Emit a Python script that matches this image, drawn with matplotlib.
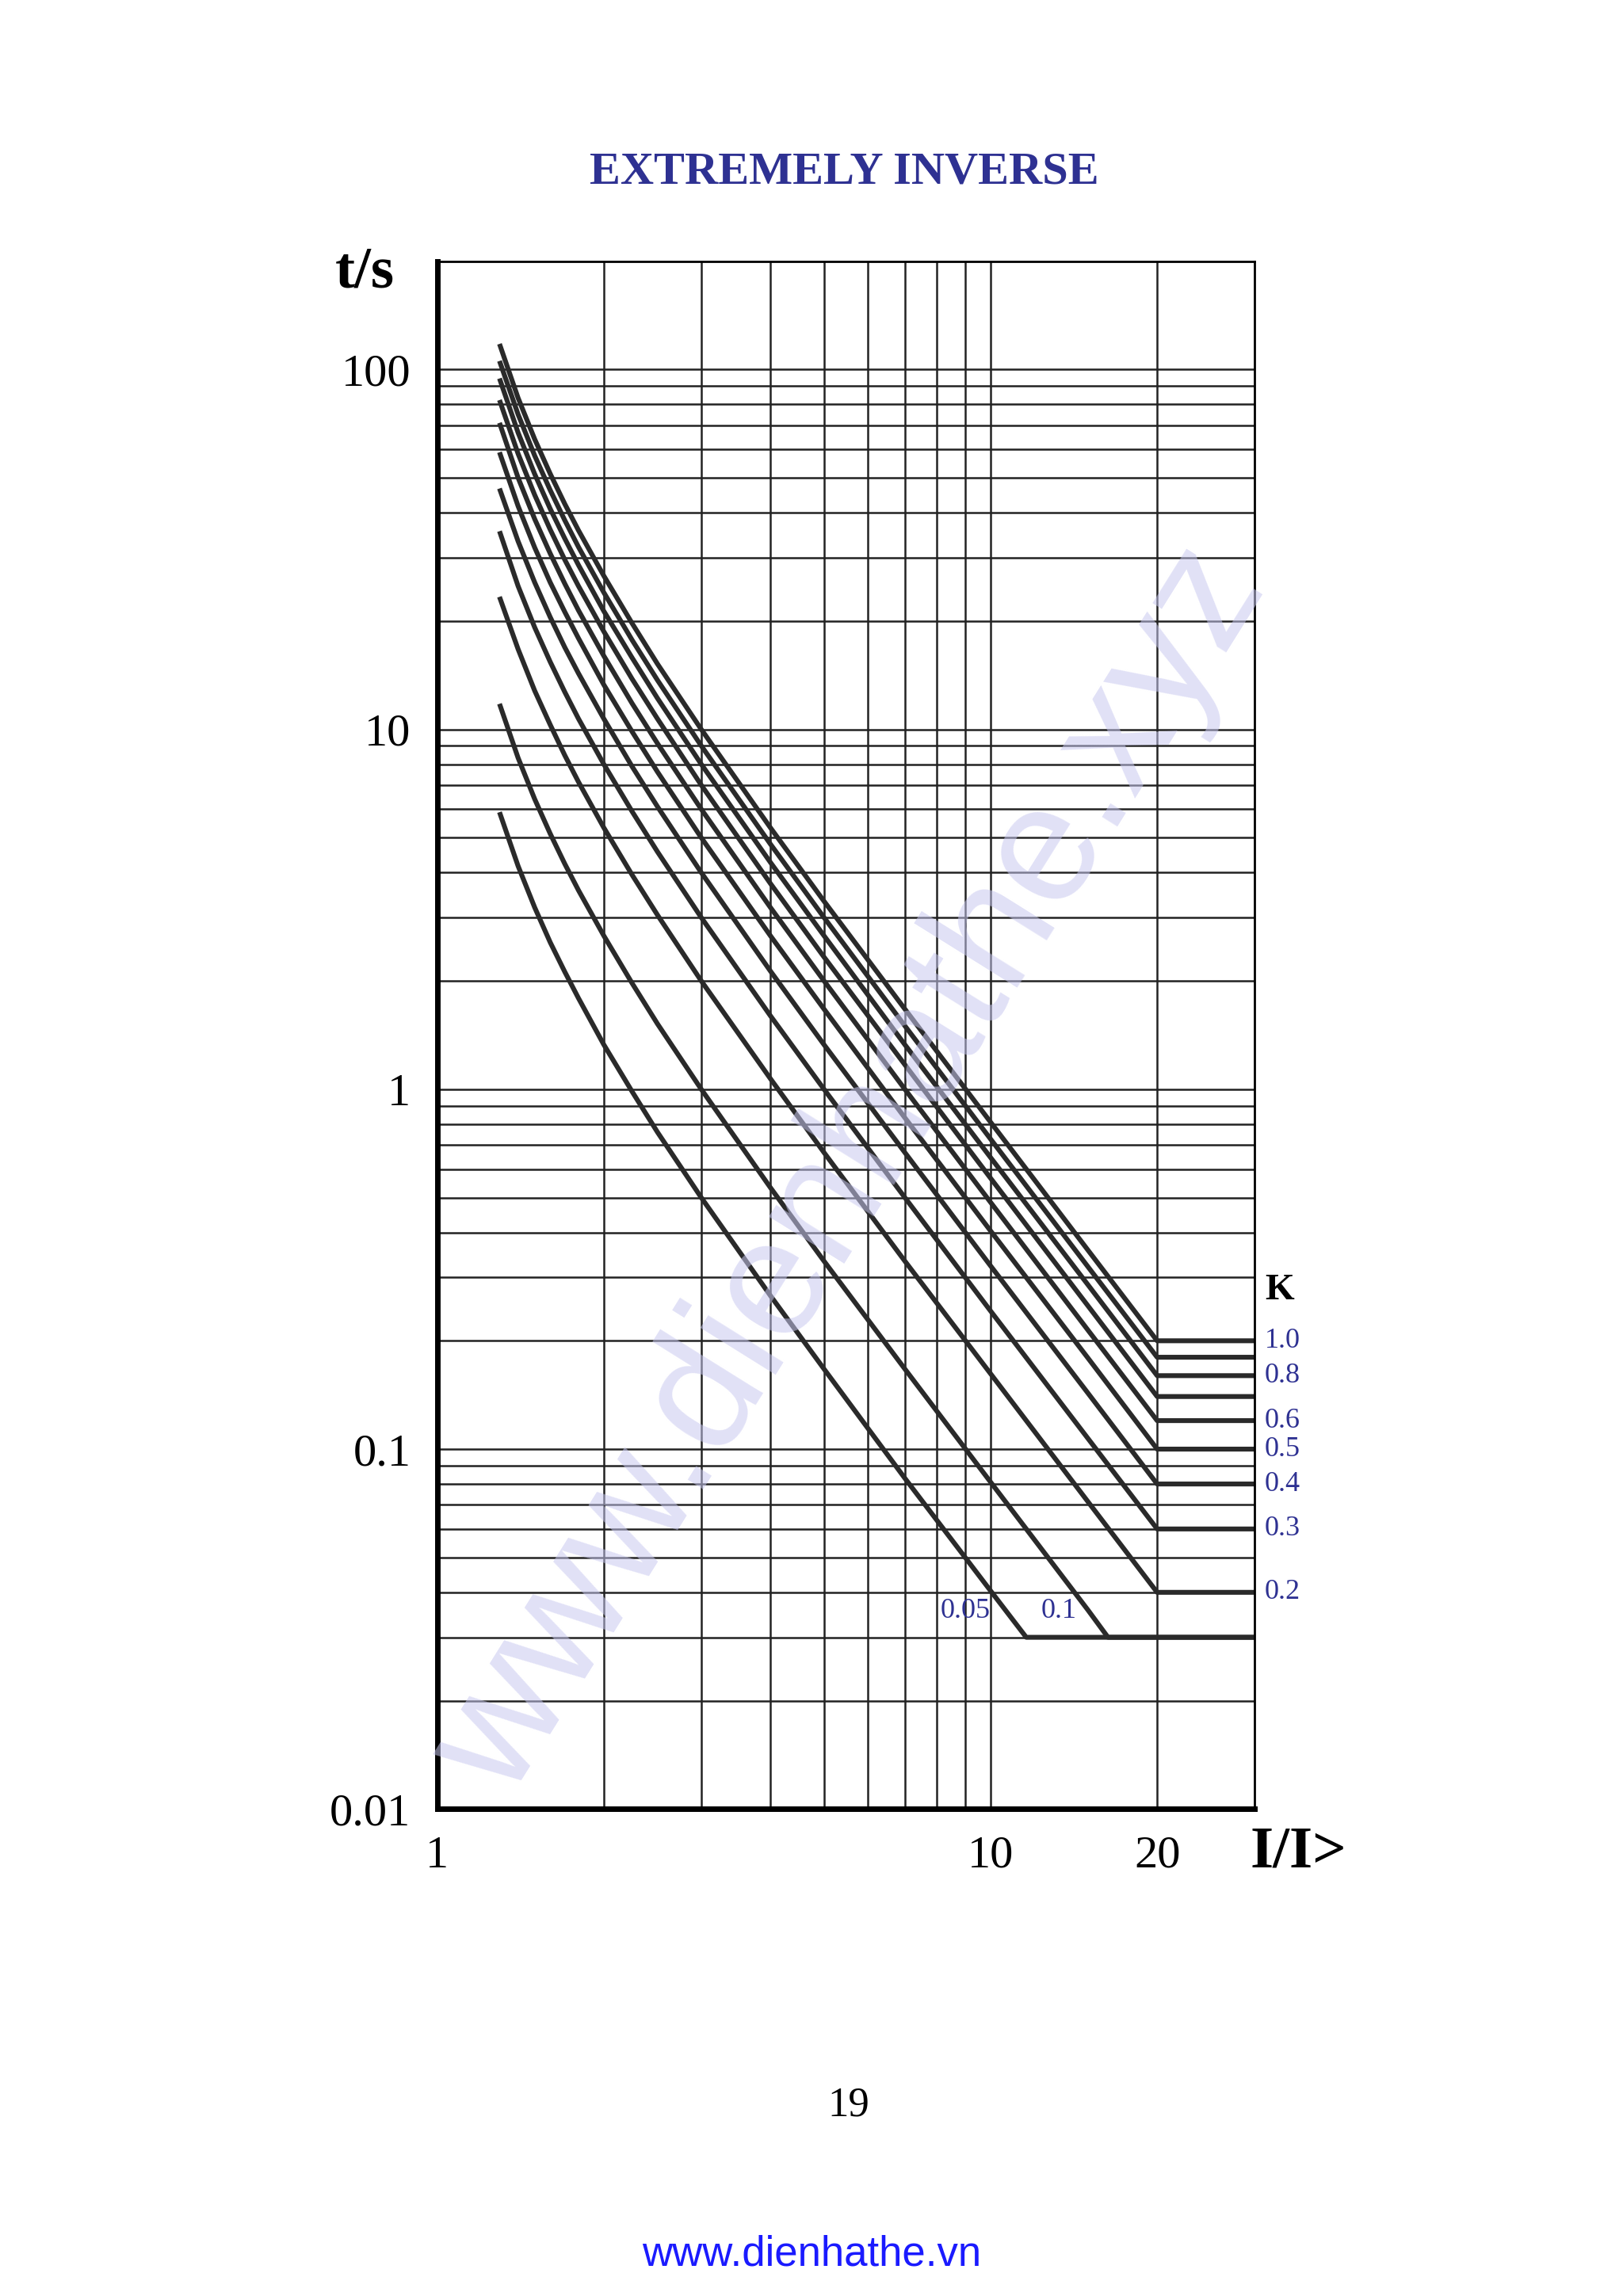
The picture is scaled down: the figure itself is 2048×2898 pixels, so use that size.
import numpy as np
from matplotlib import pyplot as plt

I = [1.3, 1.4, 1.5, 1.6, 1.7, 1.8, 2.0, 2.25, 2.5, 3.0, 4.0, 5.0, 7.0, 10.0, 15.0, 20.0]

# Operating time [s] per time multiplier K
t_k10 = [116, 83.3, 64, 51.3, 42.3, 35.7, 26.7, 19.7, 15.2, 10.0, 5.33, 3.33, 1.67, 0.81, 0.357, 0.200]
t_k09 = [104, 75.0, 57.6, 46.2, 38.1, 32.1, 24.0, 17.7, 13.7, 9.0, 4.80, 3.00, 1.50, 0.727, 0.321, 0.180]
t_k08 = [93, 66.7, 51.2, 41.0, 33.9, 28.6, 21.3, 15.8, 12.2, 8.0, 4.27, 2.67, 1.33, 0.646, 0.286, 0.160]
t_k07 = [81, 58.3, 44.8, 35.9, 29.6, 25.0, 18.7, 13.8, 10.7, 7.0, 3.73, 2.33, 1.17, 0.566, 0.250, 0.140]
t_k06 = [70, 50.0, 38.4, 30.8, 25.4, 21.4, 16.0, 11.8, 9.14, 6.0, 3.20, 2.00, 1.00, 0.485, 0.214, 0.120]
t_k05 = [58, 41.7, 32.0, 25.6, 21.2, 17.9, 13.3, 9.85, 7.62, 5.0, 2.67, 1.67, 0.833, 0.404, 0.179, 0.100]
t_k04 = [46, 33.3, 25.6, 20.5, 16.9, 14.3, 10.7, 7.88, 6.10, 4.0, 2.13, 1.33, 0.667, 0.323, 0.143, 0.080]
t_k03 = [35, 25.0, 19.2, 15.4, 12.7, 10.7, 8.0, 5.91, 4.57, 3.0, 1.60, 1.00, 0.500, 0.242, 0.107, 0.060]
t_k02 = [23, 16.7, 12.8, 10.3, 8.47, 7.14, 5.33, 3.94, 3.05, 2.0, 1.07, 0.667, 0.333, 0.162, 0.0714, 0.040]
curves = [t_k10, t_k09, t_k08, t_k07, t_k06, t_k05, t_k04, t_k03, t_k02]

# K=0.1 and K=0.05 curves reach the 0.03 s floor before I=20
I_k01 = I[:-1] + [16.3, 20.0]
t_k01 = [11.6, 8.33, 6.4, 5.13, 4.23, 3.57, 2.67, 1.97, 1.52, 1.0, 0.533, 0.333, 0.167, 0.081, 0.0357, 0.030, 0.030]
I_k005 = I[:-2] + [11.6, 30.0]
t_k005 = [5.8, 4.17, 3.2, 2.56, 2.12, 1.79, 1.33, 0.985, 0.76, 0.5, 0.267, 0.167, 0.083, 0.0404, 0.030, 0.030]

k_labels = ["1.0", "0.8", "0.6", "0.5", "0.4", "0.3", "0.2"]
k_label_t = [0.200, 0.160, 0.120, 0.100, 0.080, 0.060, 0.040]

blue = "#2e3192"
serif = "Liberation Serif"

fig = plt.figure(figsize=(10.24, 14.49), dpi=200)
ax = fig.add_axes([0.2694, 0.2121, 0.5036, 0.6742])
ax.set_xscale("log")
ax.set_yscale("log")
ax.set_xlim(1, 30)
ax.set_ylim(0.01, 200)

for xv in [2, 3, 4, 5, 6, 7, 8, 9, 10, 20]:
    ax.axvline(xv, color="#222222", lw=0.9)
for dec in [0.01, 0.1, 1, 10, 100]:
    for m in range(1, 10):
        yv = dec * m
        if 0.01 < yv < 200:
            ax.axhline(yv, color="#222222", lw=0.9)

lc = "#2a2a2a"
for t in curves:
    ax.plot(I + [30], t + [t[-1]], color=lc, lw=2.2)
ax.plot(I_k01 + [30], t_k01 + [0.03], color=lc, lw=2.2)
ax.plot(I_k005, t_k005, color=lc, lw=2.2)

for sp in ["top", "right"]:
    ax.spines[sp].set_linewidth(1.0)
for sp in ["left", "bottom"]:
    ax.spines[sp].set_linewidth(2.5)

ax.set_xticks([1, 10, 20])
ax.set_xticklabels(["1", "10", "20"])
ax.set_yticks([0.01, 0.1, 1, 10, 100])
ax.set_yticklabels(["0.01", "0.1", "1", "10", "100"])
ax.minorticks_off()
ax.tick_params(length=0, labelsize=21, pad=12)
for lab in ax.get_xticklabels() + ax.get_yticklabels():
    lab.set_fontfamily(serif)

for lab, tv in zip(k_labels, k_label_t):
    ax.text(31.3, tv, lab, color=blue, fontsize=13, family=serif, va="center")
ax.text(31.3, 0.275, "K", fontsize=17, family=serif, weight="bold", va="center")
ax.text(9.0, 0.0355, "0.05", color=blue, fontsize=13, family=serif, ha="center", va="center")
ax.text(13.3, 0.0355, "0.1", color=blue, fontsize=13, family=serif, ha="center", va="center")

fig.text(0.52, 0.925, "EXTREMELY INVERSE", color=blue, fontsize=21, family=serif,
         weight="bold", ha="center", va="center")
fig.text(0.225, 0.881, "t/s", fontsize=27, family=serif, weight="bold", ha="center", va="center")
fig.text(0.80, 0.193, "I/I>", fontsize=27, family=serif, weight="bold", ha="center", va="center")
fig.text(0.523, 0.083, "19", fontsize=19, family=serif, ha="center", va="center")
fig.text(0.5, 0.018, "www.dienhathe.vn", color="#1a1aff", fontsize=19, family="Liberation Sans",
         ha="center", va="center")
fig.text(0.525, 0.49, "www.dienhathe.xyz", color="#c8c8f0", alpha=0.55, fontsize=76,
         family="Liberation Sans", rotation=58, ha="center", va="center")

fig.savefig("out.png", dpi=200)
